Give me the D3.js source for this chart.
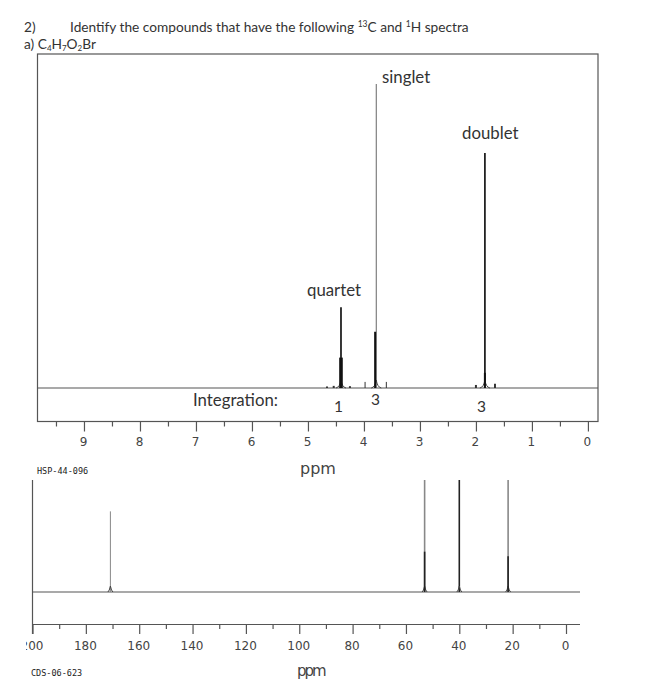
<!DOCTYPE html>
<html>
<head>
<meta charset="utf-8">
<script src="https://cdn.jsdelivr.net/npm/d3@7"></script>
<style>
  html, body { margin: 0; padding: 0; background: #fff; }
  svg { display: block; }
  .tick text { font-family: "DejaVu Sans", sans-serif; fill: #444; }
</style>
</head>
<body>
<div id="chart"></div>
<script>
// 1H spectrum, ppm and relative intensity
const h_peaks = [3.78, 1.84, 4.41];
const h_heights = [100, 77.3, 26.6];
const h_thick_ppm = [4.41, 3.8, 1.84];
const h_thick_heights = [10, 18.5, 5];
const h_small_ppm = [4.66, 4.54, 4.25, 3.98, 3.6, 2.0, 1.66];
const h_small_heights = [0.5, 0.7, 0.6, 2, 2, 1, 1.4];
const h_ticks = [9, 8, 7, 6, 5, 4, 3, 2, 1, 0];
const h_minor = [9.5, 8.5, 7.5, 6.5, 5.5, 4.5, 3.5, 2.5, 1.5, 0.5];

// 13C spectrum
const c_peaks = [170.8, 53, 40, 21.7];
const c_heights = [72, 100, 100, 100];
const c_dark_ppm = [53, 21.7];
const c_dark_heights = [36, 32];
const c_ticks = [200, 180, 160, 140, 120, 100, 80, 60, 40, 20, 0];
const c_minor = [190, 170, 150, 130, 110, 90, 70, 50, 30, 10];

const svg = d3.select("#chart").append("svg")
  .attr("width", 645)
  .attr("height", 700);

const line_col = "#555";
const text_col = "#333";
const body_font = "Lato, 'Open Sans', sans-serif";

// scales
const x_h = d3.scaleLinear().domain([9.83, -0.18]).range([37.5, 598]);
const y_h = d3.scaleLinear().domain([0, 100]).range([388, 84]);
const x_c = d3.scaleLinear().domain([200, 0]).range([32.5, 566]);
const y_c = d3.scaleLinear().domain([0, 100]).range([592, 480]);

// draws a spectrum peak with a little flare at its foot
function drawPeak(x, y, ppm, height, width, col, flare) {
  svg.append("line")
    .attr("x1", x(ppm)).attr("x2", x(ppm))
    .attr("y1", y(0)).attr("y2", y(height))
    .attr("stroke", col)
    .attr("stroke-width", width);
  if (flare) {
    const px = x(ppm), base = y(0);
    svg.append("path")
      .attr("d", "M" + (px - flare.w) + "," + base
        + "Q" + (px - 1) + "," + (base - 1) + " " + px + "," + (base - flare.h)
        + "Q" + (px + 1) + "," + (base - 1) + " " + (px + flare.w) + "," + base)
      .attr("fill", "none")
      .attr("stroke", "#444")
      .attr("stroke-width", 1);
  }
}

// frame of the 1H plot
svg.append("rect")
  .attr("x", x_h.range()[0]).attr("y", 54)
  .attr("width", x_h.range()[1] - x_h.range()[0])
  .attr("height", 421.5 - 54)
  .attr("fill", "none")
  .attr("stroke", line_col)
  .attr("stroke-width", 1.2);

// 1H baseline
svg.append("line")
  .attr("x1", x_h.range()[0]).attr("x2", x_h.range()[1])
  .attr("y1", y_h(0)).attr("y2", y_h(0))
  .attr("stroke", line_col)
  .attr("stroke-width", 1.2);

h_peaks.forEach((p, i) => {
  drawPeak(x_h, y_h, p, h_heights[i], i == 0 ? 1 : 1.8, i == 0 ? "#666" : "#222", { w: 5, h: 8 });
});
h_thick_ppm.forEach((p, i) => {
  drawPeak(x_h, y_h, p, h_thick_heights[i], i == 0 ? 3.6 : 2, "#111", null);
});
h_small_ppm.forEach((p, i) => {
  drawPeak(x_h, y_h, p, h_small_heights[i], i < 3 || i > 4 ? 2 : 1, "#333", null);
});

// 1H axis
const h_axis = svg.append("g")
  .attr("transform", "translate(0,421.5)")
  .call(d3.axisBottom(x_h).tickValues(h_ticks).tickSize(10).tickSizeOuter(0).tickFormat(d3.format("d")));
h_axis.select(".domain").remove();
h_axis.selectAll("line").attr("stroke", line_col).attr("stroke-width", 1.2);
h_axis.selectAll("text").attr("font-size", 12).attr("dx", -1).attr("y", 16);

svg.append("g")
  .attr("transform", "translate(0,421.5)")
  .call(d3.axisBottom(x_h).tickValues(h_minor).tickSize(5).tickSizeOuter(0).tickFormat(""))
  .call(g => g.select(".domain").remove())
  .selectAll("line").attr("stroke", line_col).attr("stroke-width", 1.2);

// 13C left rule and baseline
svg.append("line")
  .attr("x1", x_c(200)).attr("x2", x_c(200))
  .attr("y1", y_c(100)).attr("y2", 634)
  .attr("stroke", line_col).attr("stroke-width", 1.2);
svg.append("line")
  .attr("x1", x_c(200)).attr("x2", 580)
  .attr("y1", y_c(0)).attr("y2", y_c(0))
  .attr("stroke", line_col).attr("stroke-width", 1.2);

c_peaks.forEach((p, i) => {
  const dark = p == 40;
  drawPeak(x_c, y_c, p, c_heights[i], i == 0 ? 1 : 1.6, dark ? "#222" : "#888", { w: 2.5, h: 6 });
});
c_dark_ppm.forEach((p, i) => {
  drawPeak(x_c, y_c, p, c_dark_heights[i], 1.6, "#222", null);
});

// 13C axis, the 200 is cut off at the left edge of the scan
svg.append("clipPath").attr("id", "c_clip")
  .append("rect").attr("x", 26).attr("y", -14).attr("width", 600).attr("height", 50);

const c_axis = svg.append("g")
  .attr("transform", "translate(0,624)")
  .attr("clip-path", "url(#c_clip)")
  .call(d3.axisBottom(x_c).tickValues(c_ticks).tickSize(10).tickSizeOuter(0).tickFormat(d3.format("d")));
c_axis.select(".domain").attr("d", "M" + x_c(200) + ",0.5H580").attr("stroke", line_col).attr("stroke-width", 1.2);
c_axis.selectAll("line").attr("stroke", line_col).attr("stroke-width", 1.2);
c_axis.selectAll("text").attr("font-size", 12).attr("dx", -1).attr("y", 17);

svg.append("g")
  .attr("transform", "translate(0,624)")
  .call(d3.axisBottom(x_c).tickValues(c_minor).tickSize(5).tickSizeOuter(0).tickFormat(""))
  .call(g => g.select(".domain").remove())
  .selectAll("line").attr("stroke", line_col).attr("stroke-width", 1.2);

// plain text labels
function label(x, y, txt, size) {
  return svg.append("text")
    .attr("x", x).attr("y", y)
    .attr("font-family", body_font)
    .attr("font-size", size)
    .attr("fill", text_col)
    .text(txt);
}

label(24, 32, "2)", 13.7);
const title = label(70, 32, "Identify the compounds that have the following ", 13.7);
title.append("tspan").attr("dy", -5).attr("font-size", 8.5).text("13");
title.append("tspan").attr("dy", 5).text("C and ");
title.append("tspan").attr("dy", -5).attr("font-size", 8.5).text("1");
title.append("tspan").attr("dy", 5).text("H spectra");

const formula = label(24, 49, "a) C", 13.7);
[["4", "H"], ["7", "O"], ["2", "Br"]].forEach(d => {
  formula.append("tspan").attr("dy", 2).attr("font-size", 8).text(d[0]);
  formula.append("tspan").attr("dy", -2).text(d[1]);
});

label(382, 83, "singlet", 16.8);
label(462, 139, "doublet", 16.8);
label(307, 296, "quartet", 16.8);
label(193, 406, "Integration:", 16.8);
label(334, 412, "1", 15.5);
label(371, 405, "3", 15.5);
label(477, 412, "3", 15.5);

// ppm captions and sample codes
svg.append("text").attr("x", 300).attr("y", 474)
  .attr("font-family", "'DejaVu Sans', sans-serif").attr("font-size", 16).attr("fill", "#444").text("ppm");
svg.append("text").attr("x", 297).attr("y", 676)
  .attr("font-family", "'DejaVu Sans', sans-serif").attr("font-size", 15).attr("fill", "#444")
  .attr("letter-spacing", -2).text("ppm");
svg.append("text").attr("x", 37).attr("y", 474)
  .attr("font-family", "'DejaVu Sans Mono', monospace").attr("font-size", 8.5).attr("fill", "#222").text("HSP-44-096");
svg.append("text").attr("x", 31).attr("y", 676)
  .attr("font-family", "'DejaVu Sans Mono', monospace").attr("font-size", 8.5).attr("fill", "#222").text("CDS-06-623");
</script>
</body>
</html>
